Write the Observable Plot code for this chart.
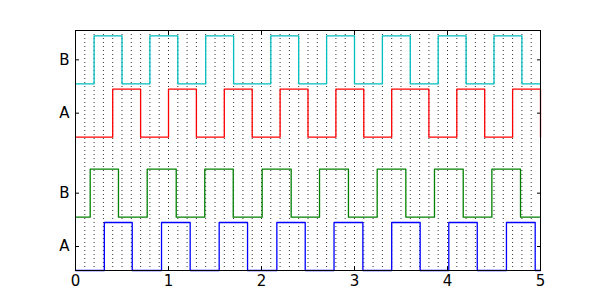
<!DOCTYPE html>
<html>
<head>
<meta charset="utf-8">
<script src="https://cdn.jsdelivr.net/npm/d3@7"></script>
<script src="https://cdn.jsdelivr.net/npm/@observablehq/plot@0.6"></script>
<style>
  html, body { margin: 0; padding: 0; background: #fff; }
  svg { display: block; }
</style>
</head>
<body>
<div id="chart"></div>
<script>
// Transition (toggle) times of each digital signal; each starts low at t = 0
const cyanB  = [0.2, 0.5, 0.8, 1.1, 1.4, 1.7, 2.1, 2.4, 2.7, 3.0, 3.3, 3.6, 3.9, 4.2, 4.5, 4.8];
const redA   = [0.4, 0.7, 1.0, 1.3, 1.6, 1.9, 2.2, 2.5, 2.8, 3.1, 3.4, 3.8, 4.1, 4.4, 4.7, 5.0];
const greenB = [0.158, 0.462, 0.771, 1.083, 1.39, 1.696, 2.007, 2.319, 2.624, 2.935, 3.244, 3.552, 3.86, 4.169, 4.477, 4.785];
const blueA  = [0.31, 0.61, 0.925, 1.233, 1.545, 1.85, 2.165, 2.47, 2.78, 3.09, 3.40, 3.706, 4.014, 4.32, 4.634, 4.943];

// Low / high levels of each trace (stacked offsets)
const signalNames  = ["cyanB", "redA", "greenB", "blueA"];
const signalTimes  = [cyanB, redA, greenB, blueA];
const signalLow    = [3.5, 2.5, 1.0, 0.0];
const signalHigh   = [4.4, 3.4, 1.9, 0.9];
const signalColors = ["#00BFBF", "#FF0000", "#008000", "#0000FF"];

const xTicks = [0, 1, 2, 3, 4, 5];
const yTicks = [0.45, 1.45, 2.95, 3.95];
const yTickLabels = ["A", "B", "A", "B"];
const gridStep = 0.1;
const tEnd = 5;

function buildRows() {
  const rows = [];
  signalNames.forEach((name, k) => {
    let level = signalLow[k];
    rows.push({name, t: 0, v: level});
    for (const t of signalTimes[k]) {
      level = level === signalLow[k] ? signalHigh[k] : signalLow[k];
      rows.push({name, t, v: level});
    }
    const last = signalTimes[k][signalTimes[k].length - 1];
    if (last < tEnd) rows.push({name, t: tEnd, v: level});
  });
  return rows;
}
const rows = buildRows();
const gridX = d3.range(1, Math.round(tEnd / gridStep)).map(i => +(i * gridStep).toFixed(2));

const chart = Plot.plot({
  width: 600,
  height: 300,
  marginLeft: 75,
  marginRight: 60,
  marginTop: 30,
  marginBottom: 30,
  style: {fontFamily: "DejaVu Sans", fontSize: "15px", color: "#000", background: "#fff"},
  x: {domain: [0, tEnd], axis: null},
  y: {domain: [0, 4.5], axis: null},
  color: {domain: signalNames, range: signalColors},
  marks: [
    Plot.ruleX(gridX, {stroke: "#000", strokeWidth: 1, strokeDasharray: "1,3", strokeOpacity: 0.8}),
    Plot.line(rows, {x: "t", y: "v", z: "name", stroke: "name", curve: "step-after", strokeWidth: 1.3}),
    Plot.frame({stroke: "#000", strokeWidth: 1}),
    Plot.axisX(xTicks, {anchor: "bottom", label: null, tickSize: -4, tickPadding: 9, tickFormat: d => String(d), fontSize: 15}),
    Plot.axisX(xTicks, {anchor: "top", label: null, tickSize: -4, tickFormat: () => ""}),
    Plot.axisY(yTicks, {anchor: "left", label: null, tickSize: -4, tickPadding: 10, tickFormat: d => yTickLabels[yTicks.indexOf(d)], fontSize: 15}),
    Plot.axisY(yTicks, {anchor: "right", label: null, tickSize: -4, tickFormat: () => ""})
  ]
});
document.getElementById("chart").appendChild(chart);
</script>
</body>
</html>
